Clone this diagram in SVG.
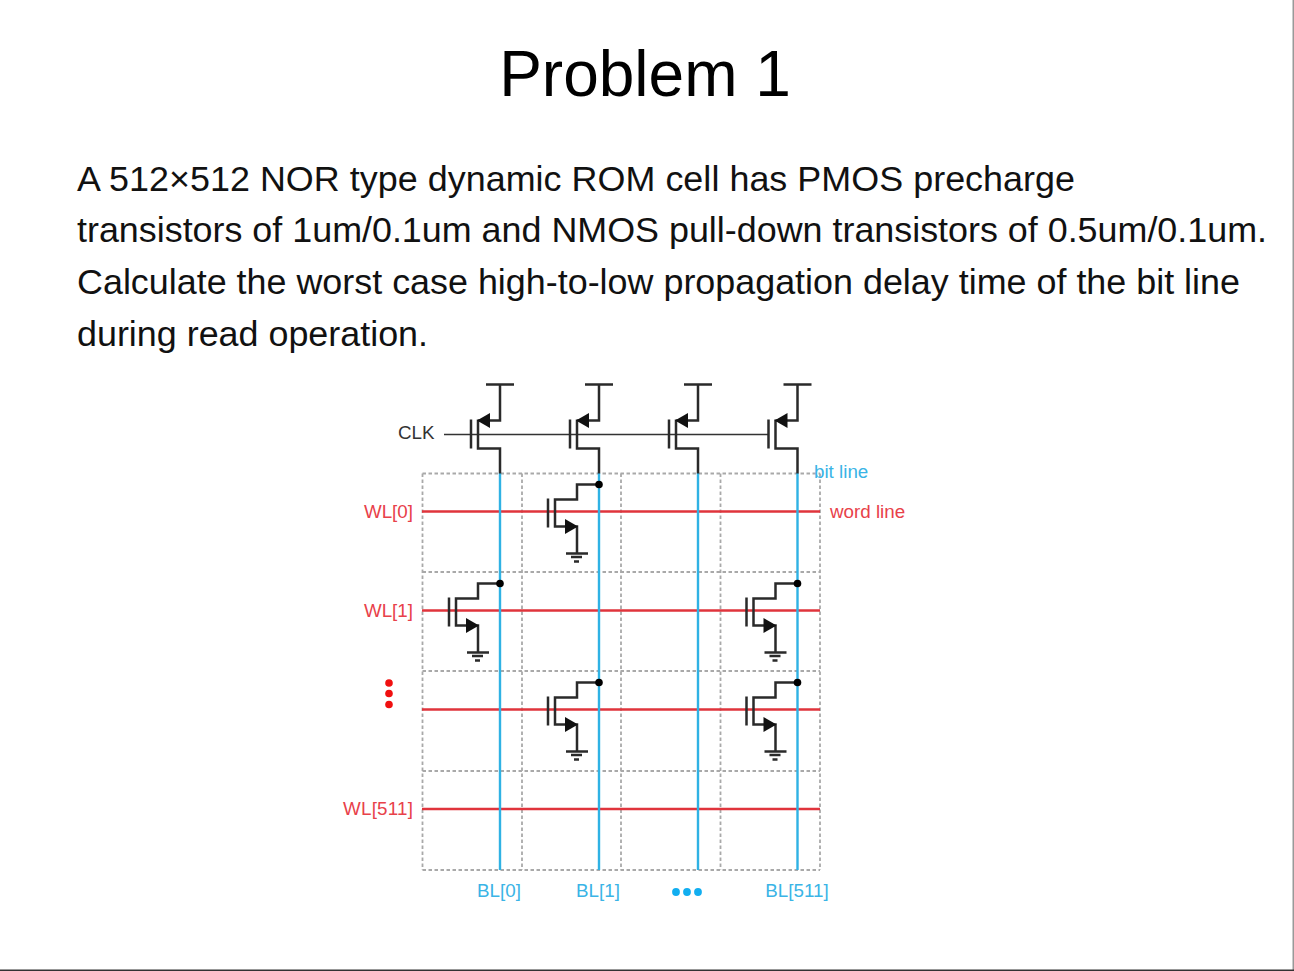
<svg xmlns="http://www.w3.org/2000/svg" xmlns:xlink="http://www.w3.org/1999/xlink" width="1294" height="971" viewBox="0 0 1294 971">
<style>
text{font-family:"Liberation Sans",Arial,sans-serif}
.title{font-size:64px;fill:#000}
.body{font-size:35.880px;fill:#111}
.lbl{font-size:18.800px}
.red{fill:#e8414a}
.blue{fill:#3ab4e6}
.blk{fill:#333}
.grid{fill:none;stroke:#a9a9a9;stroke-width:1.800;stroke-dasharray:3.500 2.500}
.wl{stroke:#e0343c;stroke-width:2.400;fill:none}
.bl{stroke:#2fb2e4;stroke-width:2.400;fill:none}
.ckt{stroke:#2a2a2a;stroke-width:2.500;fill:none}
.thin{stroke:#333;stroke-width:1.600;fill:none}
.hd{fill:#111}
</style>
<defs>
<g id="pmos">
<path class="ckt" d="M-14 -50H14M0 -50V-14H-22M-22 -15V14H0V39M-29 -15V14"/>
<path class="hd" d="M-23 -14L-10 -21.500V-6.500Z"/>
</g>
<g id="nmos">
<path class="ckt" d="M0 -27H-22V-12H-44V15H-22V42M-51 -13V16"/>
<path class="ckt" d="M-11 42H-33 M-17 45.500H-28 M-20 50H-25"/>
<path class="hd" d="M-21 15L-34 7.500V22.500Z"/>
<circle cx="0" cy="-27" r="3.800" fill="#000"/>
</g>
</defs>
<rect width="1294" height="971" fill="#fff"/>
<rect x="1292.500" y="0" width="1.500" height="971" fill="#999"/>
<rect x="0" y="969.500" width="1294" height="1.500" fill="#333"/>

<text class="title" x="645" y="96" text-anchor="middle">Problem 1</text>
<text class="body" x="77" y="190.500" textLength="998" lengthAdjust="spacing">A 512×512 NOR type dynamic ROM cell has PMOS precharge</text>
<text class="body" x="77" y="242" textLength="1190" lengthAdjust="spacing">transistors of 1um/0.1um and NMOS pull-down transistors of 0.5um/0.1um.</text>
<text class="body" x="77" y="294" textLength="1163" lengthAdjust="spacing">Calculate the worst case high-to-low propagation delay time of the bit line</text>
<text class="body" x="77" y="346">during read operation.</text>

<g id="grid">
<path class="grid" d="M422.500 473.500H820M422.500 572H820M422.500 671H820M422.500 771H820M422.500 870H820"/>
<path class="grid" d="M422.500 473.500V870M522 473.500V870M621 473.500V870M720.500 473.500V870M820 473.500V870"/>
</g>

<g id="connectors">
<path class="wl" d="M422 511.500H820M422 610.500H820M422 709.500H820M422 809H820"/>
<path class="bl" d="M500 473V870M599 473V870M698 473V870M797.500 473V870"/>
<path class="thin" d="M444 434.500H769"/>
</g>

<g id="pmos0"><use xlink:href="#pmos" href="#pmos" x="500" y="434.500"/></g>
<g id="pmos1"><use xlink:href="#pmos" href="#pmos" x="599" y="434.500"/></g>
<g id="pmos2"><use xlink:href="#pmos" href="#pmos" x="698" y="434.500"/></g>
<g id="pmos3"><use xlink:href="#pmos" href="#pmos" x="797.500" y="434.500"/></g>

<g id="nmos-0-1"><use xlink:href="#nmos" href="#nmos" x="599" y="511.500"/></g>
<g id="nmos-1-0"><use xlink:href="#nmos" href="#nmos" x="500" y="610.500"/></g>
<g id="nmos-1-3"><use xlink:href="#nmos" href="#nmos" x="797.500" y="610.500"/></g>
<g id="nmos-2-1"><use xlink:href="#nmos" href="#nmos" x="599" y="709.500"/></g>
<g id="nmos-2-3"><use xlink:href="#nmos" href="#nmos" x="797.500" y="709.500"/></g>

<g id="labels">
<text class="lbl blk" x="398" y="438.500">CLK</text>
<text class="lbl red" x="413" y="518" text-anchor="end">WL[0]</text>
<text class="lbl red" x="413" y="617" text-anchor="end">WL[1]</text>
<text class="lbl red" x="413" y="815" text-anchor="end" textLength="70">WL[511]</text>
<text class="lbl red" x="830" y="518">word line</text>
<text class="lbl blue" x="814" y="478">bit line</text>
<text class="lbl blue" x="499" y="897" text-anchor="middle">BL[0]</text>
<text class="lbl blue" x="598" y="897" text-anchor="middle">BL[1]</text>
<text class="lbl blue" x="797" y="897" text-anchor="middle">BL[511]</text>
</g>
<g id="red-dots" fill="#f01010"><circle cx="389" cy="683" r="3.800"/><circle cx="389" cy="693.500" r="3.800"/><circle cx="389" cy="704.500" r="3.800"/></g>
<g id="blue-dots" fill="#12aef0"><circle cx="676" cy="892" r="3.900"/><circle cx="687" cy="892" r="3.900"/><circle cx="698" cy="892" r="3.900"/></g>
</svg>
